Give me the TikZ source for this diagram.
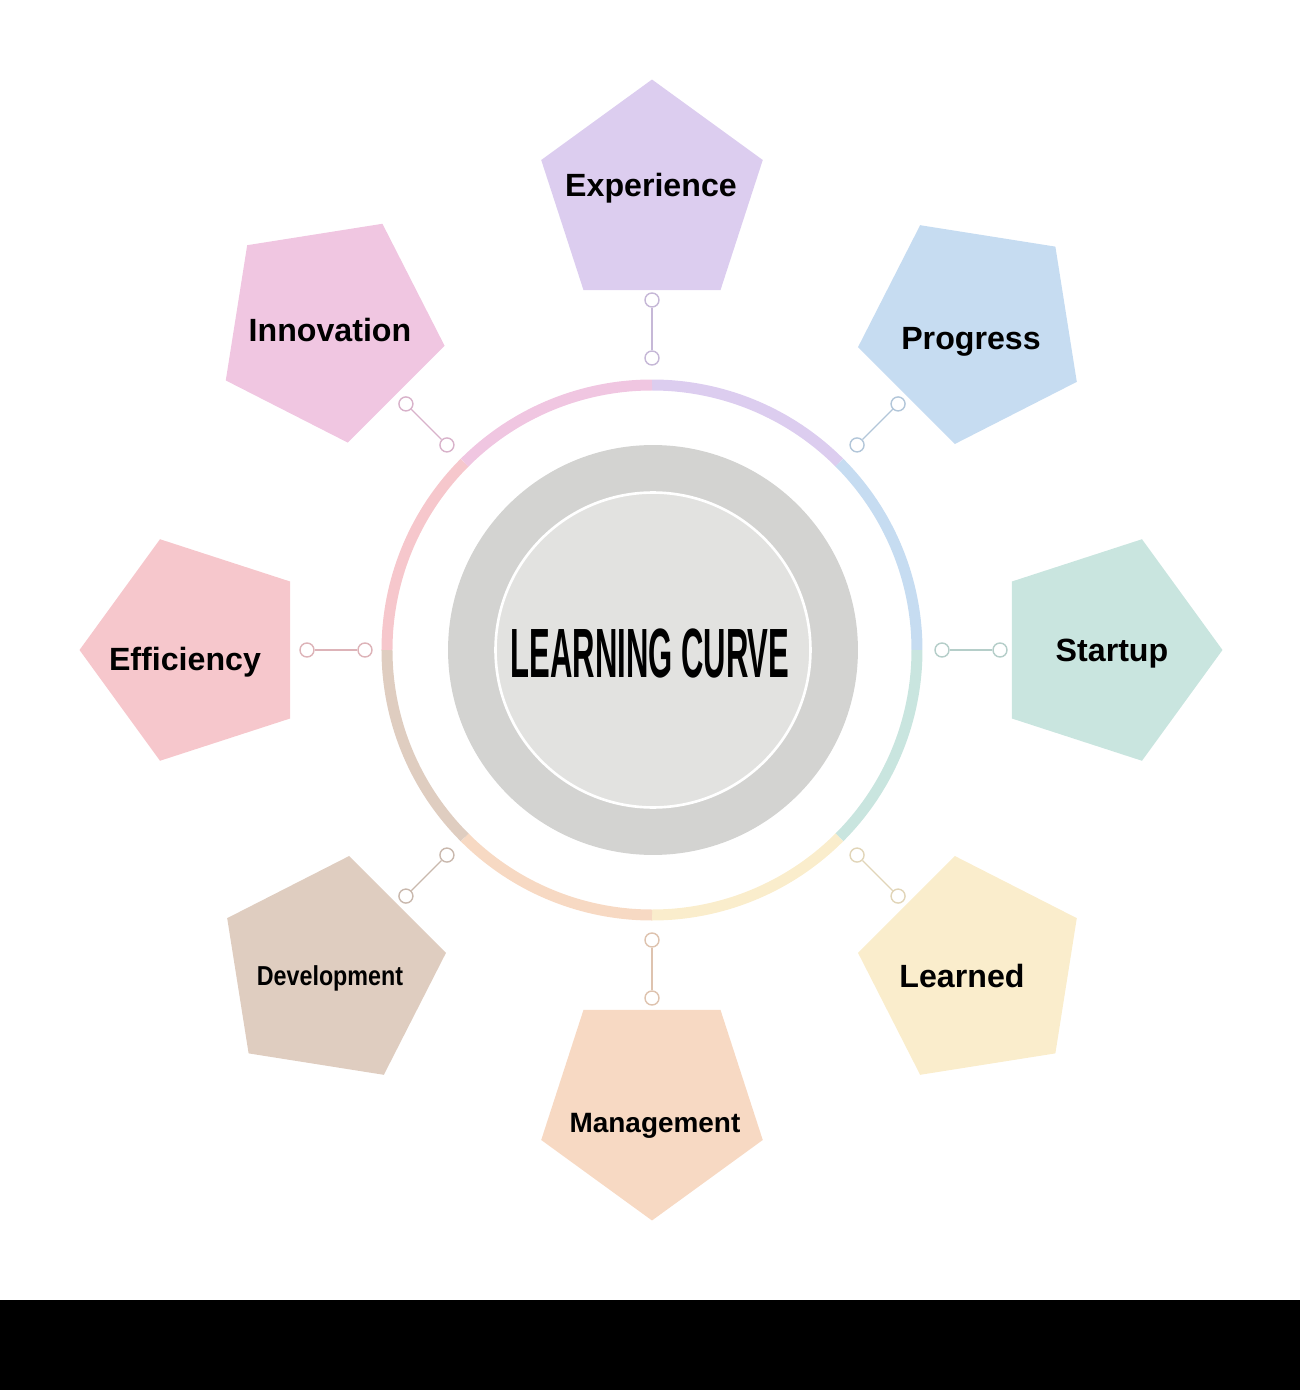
\documentclass[tikz,border=0pt]{standalone}
\usepackage{fontspec}
\setmainfont{Liberation Sans}
\usepackage{tikz}
\usetikzlibrary{shapes.geometric}

\definecolor{expcol}{HTML}{DCCDEF}
\definecolor{procol}{HTML}{C6DCF1}
\definecolor{stacol}{HTML}{C9E5DF}
\definecolor{leacol}{HTML}{FAEDCC}
\definecolor{mancol}{HTML}{F7D9C3}
\definecolor{devcol}{HTML}{DFCDC0}
\definecolor{effcol}{HTML}{F6C7CC}
\definecolor{innocol}{HTML}{F0C6E1}
\definecolor{diskcol}{HTML}{D3D3D1}
\definecolor{corecol}{HTML}{E2E2E0}

\tikzset{
    penta/.style={regular polygon, regular polygon sides=5, minimum size=4.66cm,
        inner sep=0pt, outer sep=0pt, fill=#1},
    lbl/.style={anchor=base, inner sep=0pt, font=\bfseries\fontsize{18.3}{20}\selectfont},
    knob/.style={circle, draw=#1!90!black, line width=0.8pt, fill=white,
        minimum size=0.28cm, inner sep=0pt},
    link/.style={draw=#1!90!black, line width=0.8pt},
    ringarc/.style={draw=#1, line width=0.22cm}
}

\begin{document}
\begin{tikzpicture}[x=0.02cm, y=0.02cm]
    \useasboundingbox (-652,-740) rectangle (648,650);
    \fill[black] (-652,-650) rectangle (648,-740);

    % centre
    \node [circle, fill=diskcol, minimum size=8.2cm, inner sep=0pt] (disk) at (1,0) {};
    \node [circle, fill=corecol, draw=white, line width=1.5pt, minimum size=6.3cm,
        inner sep=0pt] (core) at (1,0) {};
    \node [anchor=base, inner sep=0pt] (title) at (-2,-27)
        {\scalebox{0.445}[1]{\fontsize{39.7}{40}\selectfont\bfseries LEARNING CURVE}};

    % ring
    \draw [ringarc=expcol] (90:265) arc [start angle=90, end angle=45, radius=265];
    \draw [ringarc=procol] (45:265) arc [start angle=45, end angle=0, radius=265];
    \draw [ringarc=stacol] (0:265) arc [start angle=0, end angle=-45, radius=265];
    \draw [ringarc=leacol] (-45:265) arc [start angle=-45, end angle=-90, radius=265];
    \draw [ringarc=mancol] (-90:265) arc [start angle=-90, end angle=-135, radius=265];
    \draw [ringarc=devcol] (-135:265) arc [start angle=-135, end angle=-180, radius=265];
    \draw [ringarc=effcol] (180:265) arc [start angle=180, end angle=135, radius=265];
    \draw [ringarc=innocol] (135:265) arc [start angle=135, end angle=90, radius=265];

    % pentagons
    \node [penta=expcol, shape border rotate=0] (experience) at (90:454) {};
    \node [penta=procol, shape border rotate=-45] (progress) at (45:454) {};
    \node [penta=stacol, shape border rotate=-90] (startup) at (0:454) {};
    \node [penta=leacol, shape border rotate=-135] (learned) at (-45:454) {};
    \node [penta=mancol, shape border rotate=180] (management) at (-90:454) {};
    \node [penta=devcol, shape border rotate=135] (development) at (-135:454) {};
    \node [penta=effcol, shape border rotate=90] (efficiency) at (180:456) {};
    \node [penta=innocol, shape border rotate=45] (innovation) at (135:456) {};

    % labels
    \node [lbl] (experiencetxt) at (-1,453) {Experience};
    \node [lbl] (progresstxt) at (319,300) {Progress};
    \node [lbl] (startuptxt) at (460,-11) {Startup};
    \node [lbl] (learnedtxt) at (310,-337) {Learned};
    \node [lbl, font=\bfseries\fontsize{15.9}{18}\selectfont] (managementtxt) at (3,-482) {Management};
    \node [lbl, font=\bfseries\fontsize{15.6}{17}\selectfont] (developmenttxt) at (-322,-335)
        {\scalebox{0.85}[1]{Development}};
    \node [lbl] (efficiencytxt) at (-467,-20) {Efficiency};
    \node [lbl] (innovationtxt) at (-322,308) {Innovation};

    % connectors
    \node [knob=expcol] (expin) at (90:292) {};
    \node [knob=expcol] (expout) at (90:350) {};
    \draw [link=expcol] (expin) -- (expout);
    \node [knob=procol] (proin) at (45:290) {};
    \node [knob=procol] (proout) at (45:348) {};
    \draw [link=procol] (proin) -- (proout);
    \node [knob=stacol] (stain) at (0:290) {};
    \node [knob=stacol] (staout) at (0:348) {};
    \draw [link=stacol] (stain) -- (staout);
    \node [knob=leacol] (leain) at (-45:290) {};
    \node [knob=leacol] (leaout) at (-45:348) {};
    \draw [link=leacol] (leain) -- (leaout);
    \node [knob=mancol] (manin) at (-90:290) {};
    \node [knob=mancol] (manout) at (-90:348) {};
    \draw [link=mancol] (manin) -- (manout);
    \node [knob=devcol] (devin) at (-135:290) {};
    \node [knob=devcol] (devout) at (-135:348) {};
    \draw [link=devcol] (devin) -- (devout);
    \node [knob=effcol] (effin) at (180:287) {};
    \node [knob=effcol] (effout) at (180:345) {};
    \draw [link=effcol] (effin) -- (effout);
    \node [knob=innocol] (innoin) at (135:290) {};
    \node [knob=innocol] (innoout) at (135:348) {};
    \draw [link=innocol] (innoin) -- (innoout);
\end{tikzpicture}
\end{document}
